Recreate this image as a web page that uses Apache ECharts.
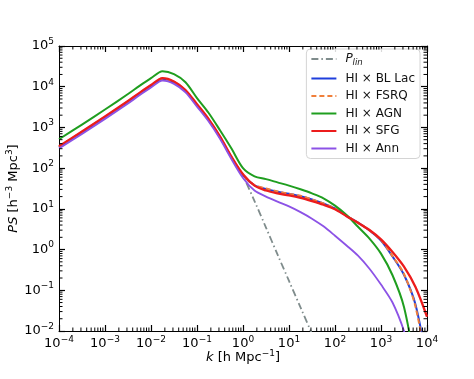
<!DOCTYPE html>
<html>
<head>
<meta charset="utf-8">
<script src="https://cdn.jsdelivr.net/npm/echarts@6/dist/echarts.min.js"></script>
<style>
html,body{margin:0;padding:0;background:#fff;}
#chart{width:474px;height:379px;}
</style>
</head>
<body>
<div id="chart"></div>
<script>
// wavenumber k [h/Mpc]
var kValues = [1e-4, 3.16e-4, 1e-3, 3.16e-3, 5.62e-3, 0.01, 0.0178, 0.0316, 0.0562, 0.1, 0.178, 0.316, 0.562, 1, 1.78, 3.16, 5.62, 10, 17.8, 31.6, 56.2, 100, 178, 316, 562, 1000, 1780, 3160, 5620, 10000];

var pLin   = [324, 741, 1738, 4169, 6607, 10230, 15140, 12590, 7762, 3467, 1514, 562, 178, 63.1, 15.5, 3.47, 0.759, 0.170, 0.0380, 0.00851, 0.00186, null, null, null, null, null, null, null, null, null];
var hiBLLac = [331, 759, 1778, 4266, 6761, 10470, 15490, 12880, 7943, 3548, 1549, 575, 182, 67.6, 38.0, 30.9, 26.3, 23.4, 20.4, 17.0, 13.5, 10.2, 6.76, 4.57, 2.95, 1.66, 0.676, 0.240, 0.0447, 0.00158];
var hiFSRQ  = [339, 776, 1820, 4365, 6918, 10720, 15850, 13180, 8128, 3631, 1585, 589, 186, 69.2, 38.5, 31.6, 26.9, 23.4, 20.9, 17.0, 13.5, 10.2, 6.76, 4.57, 2.95, 1.70, 0.692, 0.251, 0.0398, 0.00126];
var hiAGN   = [513, 1175, 2754, 6607, 10470, 16220, 23990, 20420, 12880, 5248, 2291, 851, 302, 100, 63.1, 53.7, 44.7, 37.2, 30.2, 24.0, 18.2, 12.0, 7.08, 3.63, 1.86, 0.794, 0.234, 0.0389, 0.00126, null];
var hiSFG   = [347, 794, 1862, 4467, 7079, 10960, 16220, 13490, 8318, 3715, 1622, 603, 191, 70.8, 37.2, 28.2, 24.0, 21.4, 18.6, 15.5, 12.6, 9.77, 6.61, 4.57, 3.02, 1.78, 0.871, 0.380, 0.120, 0.0224];
var hiAnn   = [302, 692, 1622, 3890, 6166, 9550, 14130, 11750, 7244, 3236, 1413, 525, 166, 57.5, 28.2, 20.0, 15.1, 11.5, 8.32, 5.75, 3.72, 2.19, 1.26, 0.708, 0.339, 0.138, 0.0501, 0.0100, 0.001, null];

var seriesNames = ['Plin', 'HI × BL Lac', 'HI × FSRQ', 'HI × AGN', 'HI × SFG', 'HI × Ann'];

var X_MIN = 1e-4, X_MAX = 1e4, Y_MIN = 1e-2, Y_MAX = 1e5;

function pairs(ys) {
  return kValues.map(function (k, i) { return [k, ys[i]]; });
}
function minorLogValues(lo, hi) {
  var out = [];
  for (var n = lo; n < hi; n++) {
    for (var m = 2; m <= 9; m++) out.push(m * Math.pow(10, n));
  }
  return out;
}
function supLabel(v) {
  var e = Math.round(Math.log10(v));
  var s = e < 0 ? '\u2212' + (-e) : '' + e;
  return '{b|10}{s|' + s + '}';
}

var FONT = 'DejaVu Sans';
var tickRich = {
  b: { fontFamily: FONT, fontSize: 13, color: '#000' },
  s: { fontFamily: FONT, fontSize: 9, color: '#000', padding: [0, 0, 9, 0] }
};
var nameRich = {
  i: { fontFamily: FONT, fontSize: 13, fontStyle: 'italic', color: '#000' },
  n: { fontFamily: FONT, fontSize: 13, color: '#000' },
  s: { fontFamily: FONT, fontSize: 9, color: '#000', padding: [0, 0, 9, 0] }
};

function logAxis(pos, isX, withLabels, extra) {
  var ax = {
    type: 'log', logBase: 10,
    position: pos,
    min: isX ? X_MIN : Y_MIN,
    max: isX ? X_MAX : Y_MAX,
    axisLine: { show: true, onZero: false, lineStyle: { color: '#000', width: 1 } },
    axisTick: { show: true, inside: true, length: 6, lineStyle: { color: '#000', width: 1.2 } },
    axisLabel: withLabels ? { show: true, formatter: supLabel, rich: tickRich, margin: isX ? 4 : 5 } : { show: false },
    splitLine: { show: false },
    minorTick: { show: false }
  };
  if (extra) for (var key in extra) ax[key] = extra[key];
  return ax;
}

var colors = ['#7f8c8c', '#1f3fdc', '#f07f3a', '#1f9e1f', '#ec1c1c', '#8c52e6'];
var styles = [
  { width: 1.8, type: [7, 3, 1.5, 3] },
  { width: 2, type: 'solid' },
  { width: 2, type: [5, 3] },
  { width: 2, type: 'solid' },
  { width: 2.3, type: 'solid' },
  { width: 1.8, type: 'solid' }
];
var dataSets = [pLin, hiBLLac, hiFSRQ, hiAGN, hiSFG, hiAnn];

var series = seriesNames.map(function (name, i) {
  return {
    name: name, type: 'line', xAxisIndex: 0, yAxisIndex: 0,
    data: pairs(dataSets[i]),
    showSymbol: false, symbol: 'none',
    smooth: 0.3,
    clip: true, connectNulls: false,
    color: colors[i],
    lineStyle: { color: colors[i], width: styles[i].width, type: styles[i].type, join: 'round' },
    emphasis: { disabled: true },
    z: 2 + i
  };
});

// minor tick marks (2..9 x 10^n) placed through the axes' own log scales
var minorX = minorLogValues(-4, 4);
var minorY = minorLogValues(-2, 5);
function tickLine(x1, y1, x2, y2) {
  return { type: 'line', shape: { x1: x1, y1: y1, x2: x2, y2: y2 }, style: { stroke: '#000', lineWidth: 1 } };
}
series.push({
  type: 'custom', name: 'minorX', xAxisIndex: 0, yAxisIndex: 0, silent: true, z: 10,
  data: minorX.map(function (v) { return [v, Y_MIN]; }),
  renderItem: function (params, api) {
    var v = api.value(0);
    var b = api.coord([v, Y_MIN]), t = api.coord([v, Y_MAX]);
    return { type: 'group', children: [tickLine(b[0], b[1], b[0], b[1] - 3.5), tickLine(t[0], t[1], t[0], t[1] + 3.5)] };
  }
});
series.push({
  type: 'custom', name: 'minorY', xAxisIndex: 0, yAxisIndex: 0, silent: true, z: 10,
  data: minorY.map(function (v) { return [X_MIN, v]; }),
  renderItem: function (params, api) {
    var v = api.value(1);
    var l = api.coord([X_MIN, v]), r = api.coord([X_MAX, v]);
    return { type: 'group', children: [tickLine(l[0], l[1], l[0] + 3.5, l[1]), tickLine(r[0], r[1], r[0] - 3.5, r[1])] };
  }
});

var chart = echarts.init(document.getElementById('chart'), null, { renderer: 'canvas' });
chart.setOption({
  animation: false,
  backgroundColor: '#fff',
  textStyle: { fontFamily: FONT },
  grid: { left: 59, right: 47, top: 46, bottom: 48, containLabel: false, outerBoundsMode: 'none' },
  legend: {
    orient: 'vertical', right: 54, top: 49,
    data: seriesNames,
    itemWidth: 25, itemHeight: 14, itemGap: 5.5,
    padding: [4, 5, 4, 4],
    backgroundColor: 'rgba(255,255,255,0.85)',
    borderColor: '#d4d4d4', borderWidth: 1, borderRadius: 4,
    itemStyle: { color: 'rgba(0,0,0,0)', borderWidth: 0, opacity: 0 },
    textStyle: { fontFamily: FONT, fontSize: 12, color: '#111', padding: [0, 0, 0, 4],
      rich: {
        i: { fontFamily: FONT, fontSize: 12, fontStyle: 'italic', color: '#111' },
        sub: { fontFamily: FONT, fontSize: 8.5, fontStyle: 'italic', color: '#111', padding: [7, 0, 0, 0] }
      } },
    formatter: function (n) { return n === 'Plin' ? '{i|P}{sub|lin}' : n; }
  },
  xAxis: [
    logAxis('bottom', true, true, {
      name: '{i|k}{n| [h Mpc}{s|\u22121}{n|]}', nameLocation: 'middle', nameGap: 18, nameMoveOverlap: false,
      nameTextStyle: { rich: nameRich }
    }),
    logAxis('top', true, false)
  ],
  yAxis: [
    logAxis('left', false, true, {
      name: '{i|PS}{n| [h}{s|\u22123}{n| Mpc}{s|3}{n|]}', nameLocation: 'middle', nameGap: 36, nameRotate: 90, nameMoveOverlap: false,
      nameTextStyle: { rich: nameRich }
    }),
    logAxis('right', false, false)
  ],
  series: series
});
</script>
</body>
</html>
